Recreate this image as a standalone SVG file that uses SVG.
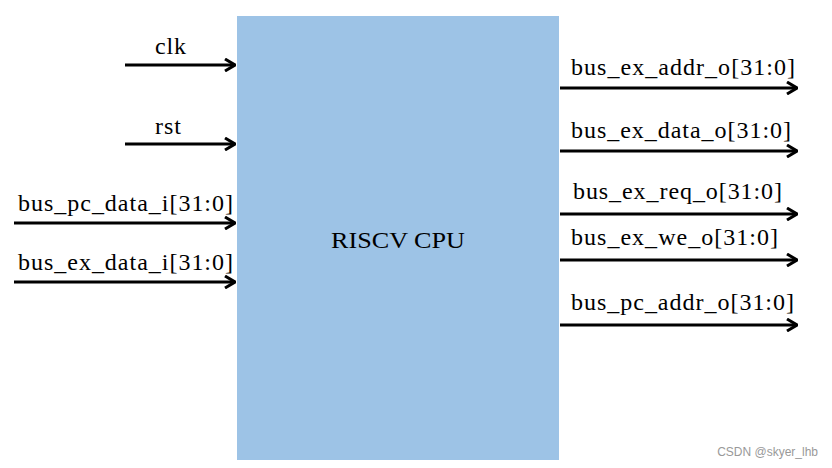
<svg xmlns="http://www.w3.org/2000/svg" width="832" height="468" viewBox="0 0 832 468">
<defs>
<marker id="ah" markerWidth="12" markerHeight="14" refX="11" refY="7" orient="auto" markerUnits="userSpaceOnUse">
<path d="M1,1 L11,7 L1,13" fill="none" stroke="#000" stroke-width="3"/>
</marker>
<style>
.t{font-family:"Liberation Serif","Times New Roman",serif;font-size:24px;fill:#000}
.c{stroke:#000;stroke-width:3;fill:none;marker-end:url(#ah)}
</style>
</defs>
<rect width="832" height="468" fill="#fff"/>
<g id="cpu">
<rect x="237" y="16" width="322" height="444" fill="#9DC3E6"/>
<text class="t" x="331" y="248" textLength="134" lengthAdjust="spacingAndGlyphs">RISCV CPU</text>
</g>
<g id="connectors">
<line class="c" x1="125" y1="65" x2="235" y2="65"/>
<line class="c" x1="125" y1="144" x2="235" y2="144"/>
<line class="c" x1="14" y1="223" x2="235" y2="223"/>
<line class="c" x1="14" y1="282" x2="235" y2="282"/>
<line class="c" x1="560" y1="88" x2="797" y2="88"/>
<line class="c" x1="560" y1="151" x2="797" y2="151"/>
<line class="c" x1="560" y1="214" x2="797" y2="214"/>
<line class="c" x1="560" y1="260" x2="797" y2="260"/>
<line class="c" x1="560" y1="325" x2="797" y2="325"/>
</g>
<g id="labels">
<text class="t" x="155" y="54" textLength="31">clk</text>
<text class="t" x="155" y="134" textLength="26">rst</text>
<text class="t" x="18" y="211" textLength="215">bus_pc_data_i[31:0]</text>
<text class="t" x="18" y="270" textLength="215">bus_ex_data_i[31:0]</text>
<text class="t" x="571" y="75" textLength="224">bus_ex_addr_o[31:0]</text>
<text class="t" x="571" y="138" textLength="220">bus_ex_data_o[31:0]</text>
<text class="t" x="573" y="199" textLength="209">bus_ex_req_o[31:0]</text>
<text class="t" x="571" y="245" textLength="207">bus_ex_we_o[31:0]</text>
<text class="t" x="571" y="310" textLength="223">bus_pc_addr_o[31:0]</text>
</g>
<text x="818" y="456" text-anchor="end" font-family="Liberation Sans,Arial,sans-serif" font-size="12" fill="#999">CSDN @skyer_lhb</text>
</svg>
